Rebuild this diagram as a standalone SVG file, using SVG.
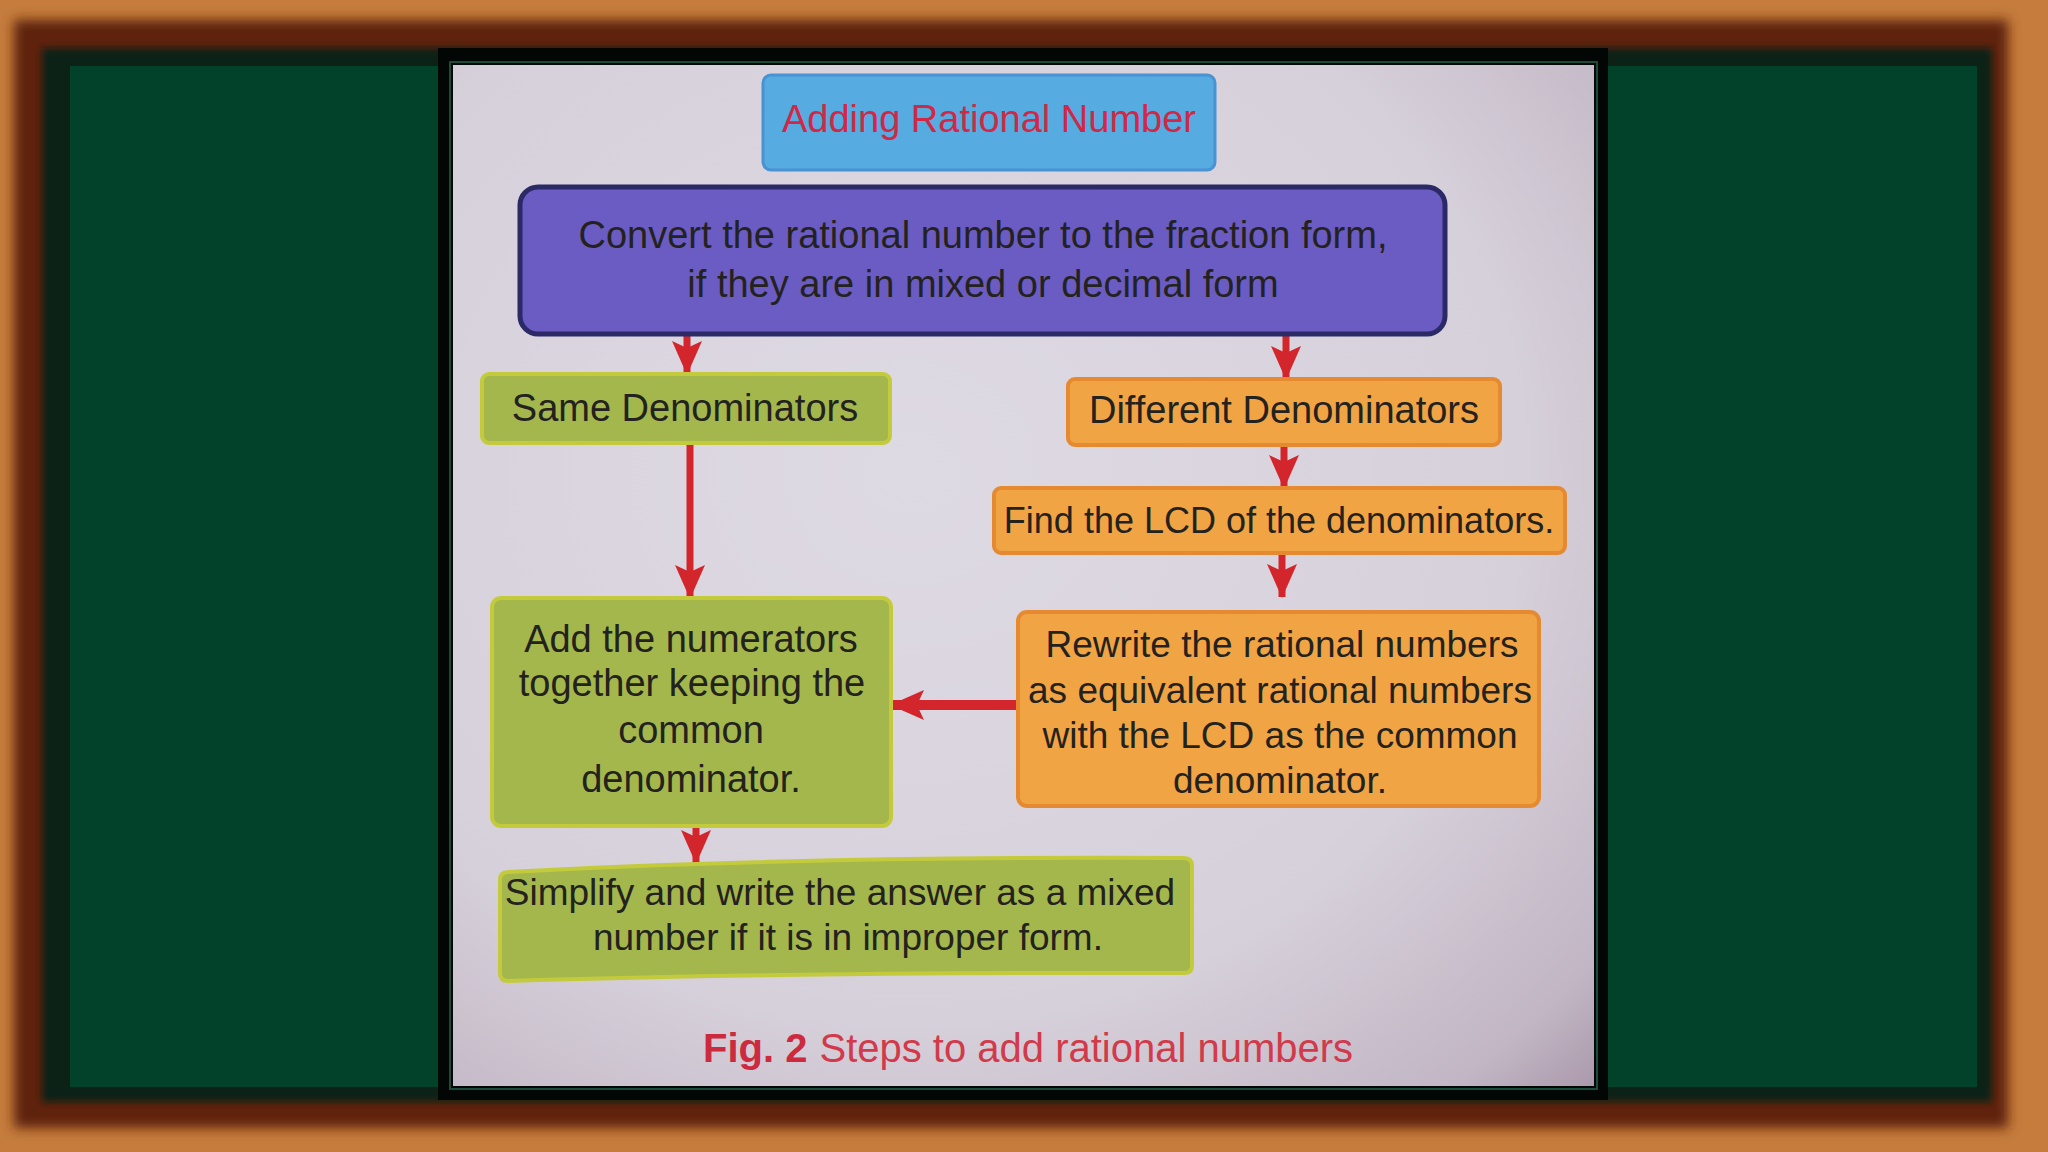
<svg xmlns="http://www.w3.org/2000/svg" width="2048" height="1152" viewBox="0 0 2048 1152">
  <defs>
    <filter id="soft" x="-5%" y="-5%" width="110%" height="110%">
      <feGaussianBlur stdDeviation="6"/>
    </filter>
    <filter id="soft2" x="-5%" y="-5%" width="110%" height="110%">
      <feGaussianBlur stdDeviation="3"/>
    </filter>
    <radialGradient id="paper" cx="0.4" cy="0.4" r="0.9">
      <stop offset="0" stop-color="#dedae3"/>
      <stop offset="0.6" stop-color="#d6d0da"/>
      <stop offset="0.85" stop-color="#c2b6c4"/>
      <stop offset="1" stop-color="#9c889c"/>
    </radialGradient>
    <marker id="ah" viewBox="0 0 34 30" refX="33" refY="15" markerWidth="34" markerHeight="30" markerUnits="userSpaceOnUse" orient="auto">
      <path d="M0,0 L34,15 L0,30 L7,15 Z" fill="#d3262c"/>
    </marker>
    <style>
      .t { font-family: "Liberation Sans", Arial, sans-serif; fill: #24221e; text-anchor: middle; }
      .green { fill: #a3b74c; stroke: #c3cb3c; stroke-width: 4; }
      .orange { fill: #f1a444; stroke: #e58a30; stroke-width: 4; }
      .conn { stroke: #d3262c; stroke-width: 7; fill: none; marker-end: url(#ah); }
    </style>
  </defs>

  <!-- frame -->
  <g id="frame">
    <rect x="0" y="0" width="2048" height="1152" fill="#c57c3c"/>
    <rect x="14" y="20" width="1994" height="1108" fill="#5e220e" filter="url(#soft)"/>
    <rect x="42" y="48" width="1950" height="1054" fill="#0c2418" filter="url(#soft2)"/>
    <rect x="70" y="66" width="1907" height="1021" fill="#02412a"/>
  </g>

  <!-- picture -->
  <g id="picture">
    <rect x="438" y="48" width="1170" height="1052" fill="#020604"/>
    <rect x="450" y="62" width="1147" height="1027" fill="none" stroke="#1a4a3a" stroke-width="2"/>
    <rect x="453" y="65" width="1141" height="1021" fill="url(#paper)"/>
  </g>

  <!-- connectors -->
  <g id="connectors">
    <line class="conn" x1="687" y1="334" x2="687" y2="374"/>
    <line class="conn" x1="1286" y1="334" x2="1286" y2="379"/>
    <line class="conn" x1="690" y1="443" x2="690" y2="598"/>
    <line class="conn" x1="1284" y1="445" x2="1284" y2="488"/>
    <line class="conn" x1="1282" y1="553" x2="1282" y2="597"/>
    <line class="conn" x1="1018" y1="705" x2="891" y2="705" style="stroke-width:10"/>
    <line class="conn" x1="696" y1="826" x2="696" y2="863"/>
  </g>

  <!-- nodes -->
  <g id="title">
    <rect x="763" y="75" width="452" height="95" rx="8" fill="#56abe0" stroke="#4a92d2" stroke-width="3"/>
    <text class="t" x="989" y="132" font-size="38" style="fill:#d02846">Adding Rational Number</text>
  </g>

  <g id="convert">
    <rect x="520" y="187" width="925" height="147" rx="18" fill="#6a5cc2" stroke="#2b2966" stroke-width="5"/>
    <text class="t" x="983" y="248" font-size="38">Convert the rational number to the fraction form,</text>
    <text class="t" x="983" y="297" font-size="38">if they are in mixed or decimal form</text>
  </g>

  <g id="same">
    <rect class="green" x="482" y="374" width="408" height="69" rx="7"/>
    <text class="t" x="685" y="421" font-size="38">Same Denominators</text>
  </g>

  <g id="different">
    <rect class="orange" x="1068" y="379" width="432" height="66" rx="7"/>
    <text class="t" x="1284" y="423" font-size="38">Different Denominators</text>
  </g>

  <g id="lcd">
    <rect class="orange" x="994" y="488" width="571" height="65" rx="7"/>
    <text class="t" x="1279" y="533" font-size="36">Find the LCD of the denominators.</text>
  </g>

  <g id="rewrite">
    <rect class="orange" x="1018" y="612" width="521" height="194" rx="9"/>
    <text class="t" x="1282" y="657" font-size="37">Rewrite the rational numbers</text>
    <text class="t" x="1280" y="703" font-size="37">as equivalent rational numbers</text>
    <text class="t" x="1280" y="748" font-size="37">with the LCD as the common</text>
    <text class="t" x="1280" y="793" font-size="37">denominator.</text>
  </g>

  <g id="add">
    <rect class="green" x="492" y="598" width="399" height="228" rx="9"/>
    <text class="t" x="691" y="652" font-size="38">Add the numerators</text>
    <text class="t" x="692" y="696" font-size="38">together keeping the</text>
    <text class="t" x="691" y="743" font-size="38">common</text>
    <text class="t" x="691" y="792" font-size="38">denominator.</text>
  </g>

  <g id="simplify">
    <path class="green" d="M508,872 Q800,856 1184,858 Q1192,858 1192,866 L1192,966 Q1192,973 1184,973 Q800,972 508,981 Q500,981 500,973 L500,880 Q500,872 508,872 Z"/>
    <text class="t" x="840" y="905" font-size="37">Simplify and write the answer as a mixed</text>
    <text class="t" x="848" y="950" font-size="37">number if it is in improper form.</text>
  </g>

  <g id="caption">
    <text x="703" y="1062" font-family="Liberation Sans, Arial, sans-serif" font-size="40" fill="#cc2a3e"><tspan font-weight="bold">Fig. 2</tspan><tspan dx="12" fill="#d23a4c">Steps to add rational numbers</tspan></text>
  </g>
</svg>
